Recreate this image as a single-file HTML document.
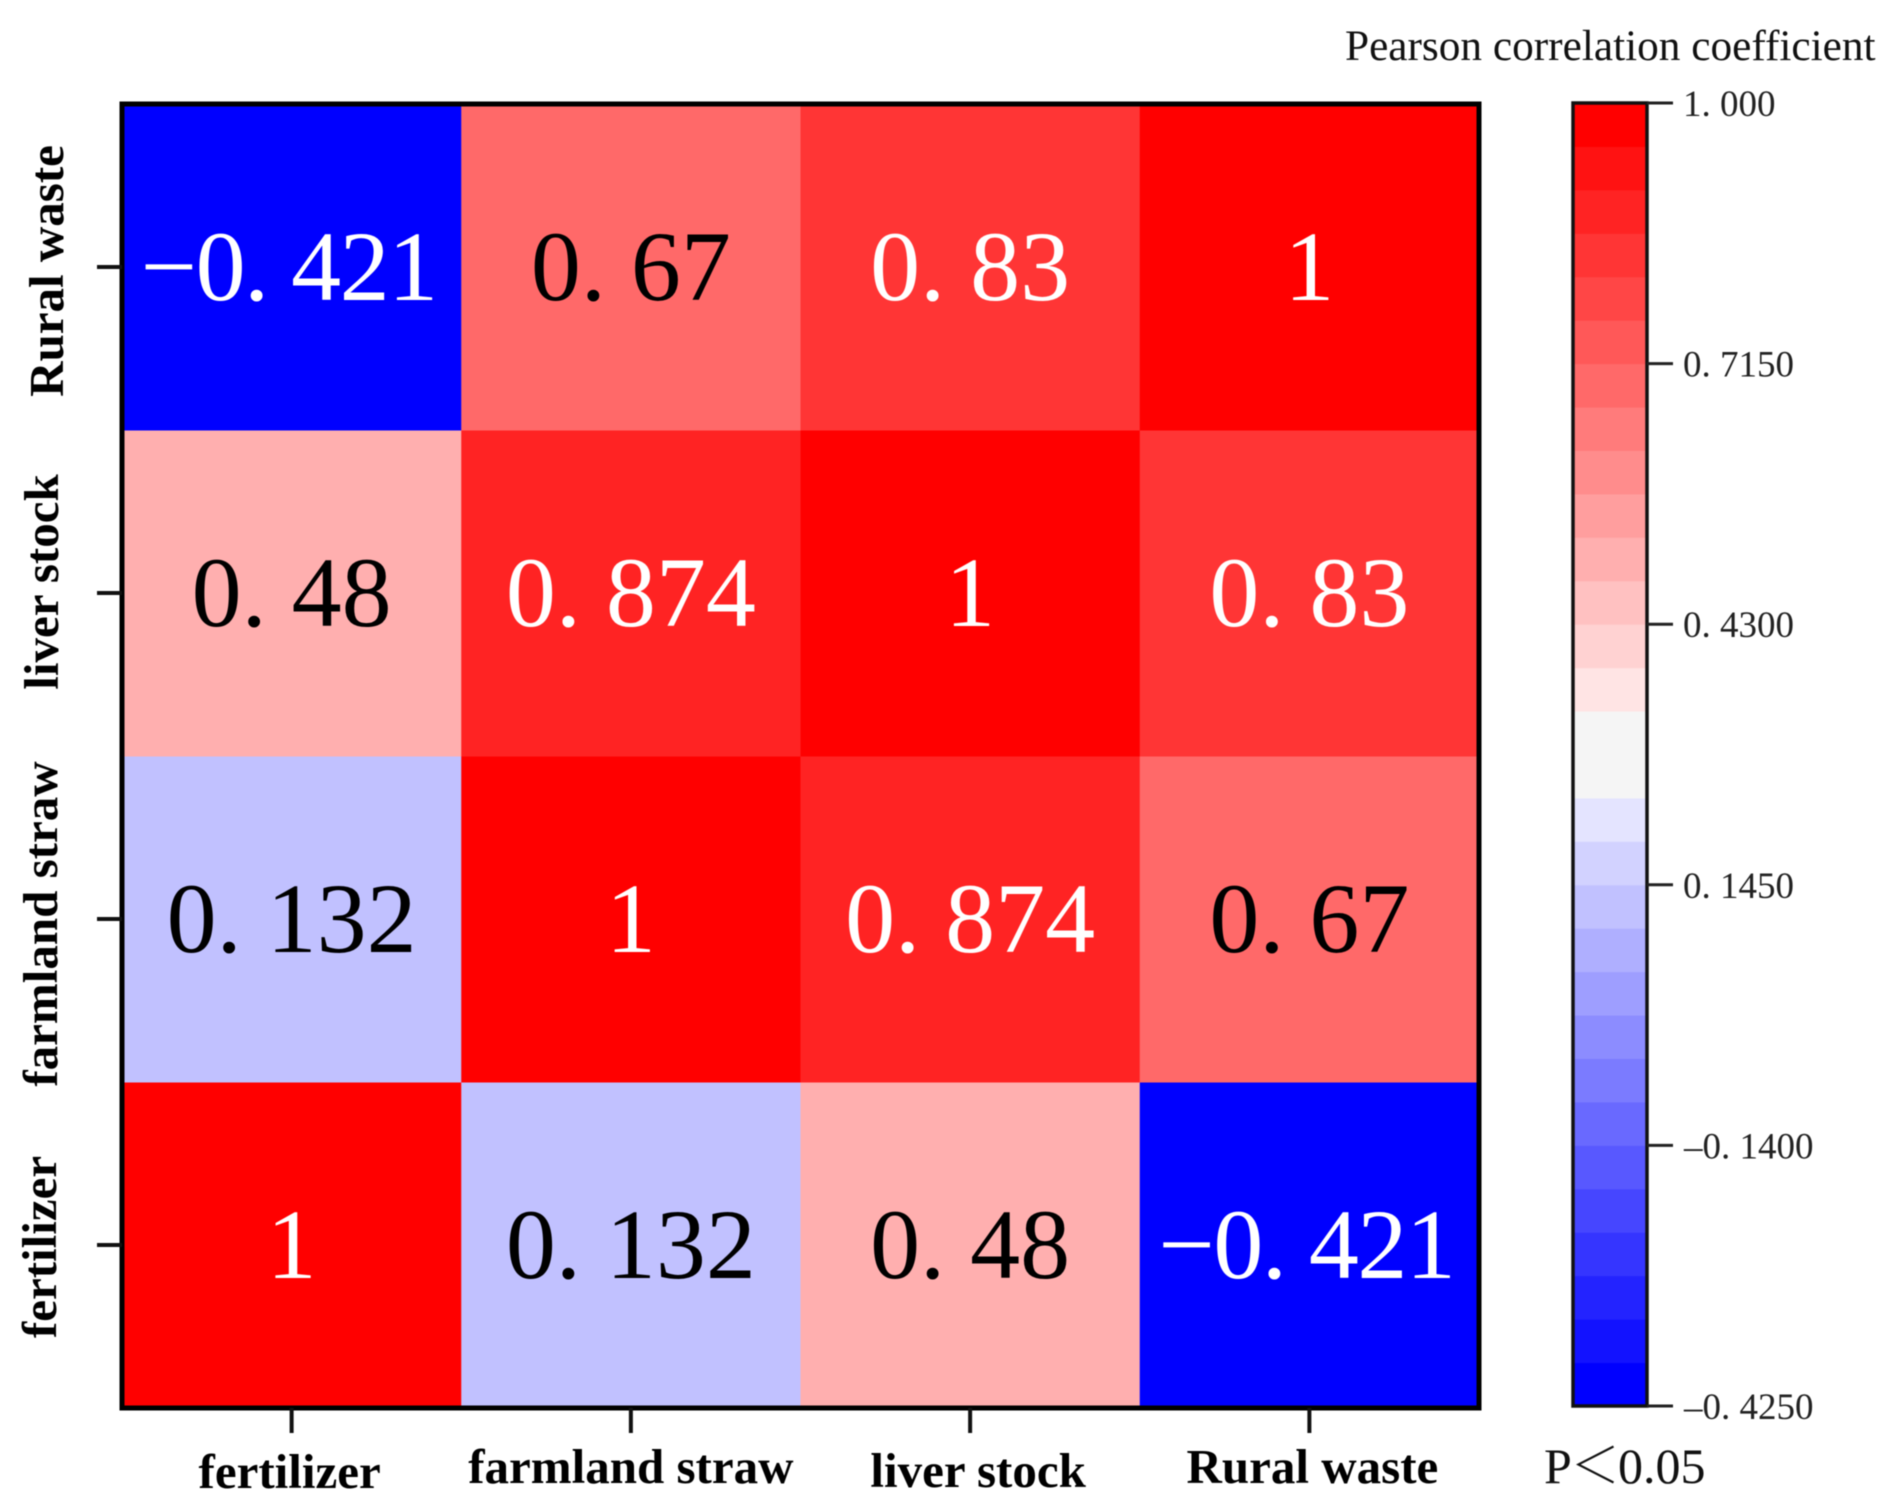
<!DOCTYPE html>
<html lang="en">
<head>
<meta charset="utf-8">
<title>Pearson correlation heatmap</title>
<style>
html,body{margin:0;padding:0;background:#fff;}
#chart{display:block;width:1890px;height:1505px;background:#fff;filter:blur(0.5px);}
text{font-family:"Liberation Serif","Noto Serif CJK SC",serif;}
</style>
</head>
<body>
<svg id="chart" xmlns="http://www.w3.org/2000/svg" width="1890" height="1505" viewBox="0 0 1890 1505">
  <g id="cells"></g>
  <g id="cellLabels"></g>
  <rect x="122" y="104" width="1357" height="1304" fill="none" stroke="#000" stroke-width="5"></rect>
  <g id="xAxis"></g>
  <g id="yAxis"></g>
  <g id="bands"></g>
  <rect x="1573" y="103" width="74" height="1303" fill="none" stroke="#111" stroke-width="3.5"></rect>
  <g id="cbTicks"></g>
  <text x="1345" y="60" font-size="43.3" fill="#111">Pearson correlation coefficient</text>
  <text y="1483" font-size="50" fill="#111"><tspan x="1544">P</tspan><tspan x="1570">＜</tspan><tspan x="1618">0.05</tspan></text>
</svg>
<script>
// ---- chart data ----
const categories = ['fertilizer', 'farmland straw', 'liver stock', 'Rural waste'];
// rows run bottom to top, columns left to right
const rowFertilizer = [1, 0.132, 0.48, -0.421];
const rowFarmlandStraw = [0.132, 1, 0.874, 0.67];
const rowLiverStock = [0.48, 0.874, 1, 0.83];
const rowRuralWaste = [-0.421, 0.67, 0.83, 1];
const matrix = [rowFertilizer, rowFarmlandStraw, rowLiverStock, rowRuralWaste];
const colorbarTickValues = [1, 0.715, 0.43, 0.145, -0.14, -0.425];
const colorbarTickLabels = ['1. 000', '0. 7150', '0. 4300', '0. 1450', '\u20130. 1400', '\u20130. 4250'];
const colorMin = -0.425;
const colorMax = 1;
const bandCount = 30;

// ---- layout ----
const NS = 'http://www.w3.org/2000/svg';
const plot = {left: 122, right: 1479, top: 104, bottom: 1408};
const cb = {left: 1573, right: 1647, top: 103, bottom: 1406};
const xLabelNudgeX = [-2, 0, 8, 3];
const xLabelBaseline = [1488, 1483, 1487, 1483];
const yLabelNudgeY = [2, 5, -11, 4];
const yLabelBaseline = [56, 57, 58, 63];
const lightMax = 245;

const cellW = (plot.right - plot.left) / categories.length;
const cellH = (plot.bottom - plot.top) / categories.length;
function xCenter(i) { return plot.left + (i + 0.5) * cellW; }
function yCenter(j) { return plot.bottom - (j + 0.5) * cellH; }
function cbY(v) { return cb.bottom - (v - colorMin) / (colorMax - colorMin) * (cb.bottom - cb.top); }

function bandIndex(v) {
  const step = (colorMax - colorMin) / bandCount;
  return Math.max(0, Math.min(bandCount - 1, Math.floor((v - colorMin) / step + 1e-9)));
}
function bandColor(idx) {
  const half = bandCount / 2;
  if (idx < half) {
    const t = Math.round(lightMax * idx / (half - 1));
    if (idx === half - 1) return 'rgb(' + t + ',' + t + ',' + t + ')';
    return 'rgb(' + t + ',' + t + ',255)';
  }
  const t = Math.round(lightMax * (bandCount - 1 - idx) / (half - 1));
  if (idx === half) return 'rgb(' + t + ',' + t + ',' + t + ')';
  return 'rgb(255,' + t + ',' + t + ')';
}
function textColor(v) { return (v < 0 || v >= 0.8) ? '#fff' : '#000'; }
function formatCell(v) { return String(v).replace('.', '. ').replace('-', '\u2212'); }
function make(tag, attrs, parent) {
  const el = document.createElementNS(NS, tag);
  for (const k in attrs) el.setAttribute(k, attrs[k]);
  parent.appendChild(el);
  return el;
}

// ---- heatmap cells ----
const cellsG = document.getElementById('cells');
const labelsG = document.getElementById('cellLabels');
matrix.forEach(function (row, j) {
  row.forEach(function (v, i) {
    const rect = make('rect', {
      x: xCenter(i) - cellW / 2, y: yCenter(j) - cellH / 2,
      width: cellW + 0.5, height: cellH + 0.5,
      fill: bandColor(bandIndex(v))
    }, cellsG);
    
    
    const t = make('text', {
      x: xCenter(i) - (v < 0 ? 3 : 0), y: yCenter(j) + 33, 'font-size': 100,
      'text-anchor': 'middle', fill: textColor(v),
      'letter-spacing': v < 0 ? -1.5 : 0
    }, labelsG);
    t.setAttribute('xml:space', 'preserve');
    t.textContent = formatCell(v);
    
    
  });
});

// ---- axes ----
const xAxisG = document.getElementById('xAxis');
const yAxisG = document.getElementById('yAxis');
categories.forEach(function (name, i) {
  const tx = make('line', {x1: xCenter(i), x2: xCenter(i), y1: plot.bottom, y2: plot.bottom + 25, stroke: '#111', 'stroke-width': 4}, xAxisG);
  
  
  const lx = make('text', {
    x: xCenter(i) + xLabelNudgeX[i], y: xLabelBaseline[i], 'font-size': 49,
    'font-weight': 'bold', 'text-anchor': 'middle', fill: '#000'
  }, xAxisG);
  lx.textContent = name;
  
  

  const ty = make('line', {x1: plot.left - 25, x2: plot.left, y1: yCenter(i), y2: yCenter(i), stroke: '#111', 'stroke-width': 4}, yAxisG);
  
  
  const ly = make('text', {
    'font-size': 49, 'font-weight': 'bold', 'text-anchor': 'middle', fill: '#000',
    transform: 'translate(' + yLabelBaseline[i] + ',' + (yCenter(i) + yLabelNudgeY[i]) + ') rotate(-90)'
  }, yAxisG);
  ly.textContent = name;
  
  
});

// ---- colorbar ----
const bandsG = document.getElementById('bands');
for (let b = 0; b < bandCount; b++) {
  const lo = colorMin + (colorMax - colorMin) * b / bandCount;
  const hi = colorMin + (colorMax - colorMin) * (b + 1) / bandCount;
  const r = make('rect', {
    x: cb.left, y: cbY(hi), width: cb.right - cb.left,
    height: cbY(lo) - cbY(hi) + 0.5, fill: bandColor(b)
  }, bandsG);
  
  
}
const cbTicksG = document.getElementById('cbTicks');
colorbarTickValues.forEach(function (v, i) {
  const y = cbY(v);
  const line = make('line', {x1: cb.right, x2: cb.right + 26, y1: y, y2: y, stroke: '#222', 'stroke-width': 3}, cbTicksG);
  
  
  const t = make('text', {x: v < 0 ? 1684 : 1683, y: y + 13, 'font-size': 37, fill: '#222'}, cbTicksG);
  t.setAttribute('xml:space', 'preserve');
  t.textContent = colorbarTickLabels[i];
  
  
});
</script>
</body>
</html>
